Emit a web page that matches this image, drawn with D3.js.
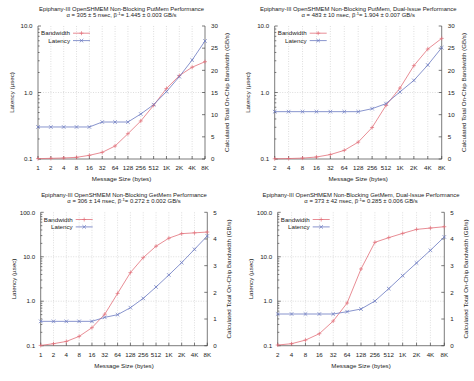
<!DOCTYPE html>
<html><head><meta charset="utf-8">
<script src="https://cdn.jsdelivr.net/npm/d3@7"></script>
<style>body{margin:0;background:#fff}svg{display:block;font-family:"Liberation Sans",Arial,sans-serif}</style>
</head><body>
<svg id="c" width="474" height="381"></svg>
<script>
const sizes1 = ["1","2","4","8","16","32","64","128","256","512","1K","2K","4K","8K"];
const sizes2 = ["2","4","8","16","32","64","128","256","512","1K","2K","4K","8K"];

const putLat = [0.303,0.303,0.303,0.303,0.303,0.36,0.36,0.36,0.475,0.656,1.03,1.73,3.08,5.95];
const putBw  = [0.08,0.15,0.23,0.38,0.83,1.5,2.93,5.7,8.57,12.1,15.9,18.8,20.7,21.95];

const putDiLat = [0.515,0.515,0.515,0.515,0.515,0.515,0.515,0.571,0.68,1.02,1.52,2.59,4.72];
const putDiBw  = [0.05,0.1,0.2,0.45,1.0,1.95,3.8,7.1,12.1,16.0,21.05,24.8,27.2];

const getLat = [0.353,0.353,0.353,0.353,0.353,0.434,0.498,0.716,1.16,2.09,3.89,7.38,14.7,29.4];
const getBw  = [0.01,0.075,0.16,0.35,0.675,1.18,1.96,2.74,3.3,3.73,4.03,4.2,4.23,4.26];

const getDiLat = [0.516,0.516,0.516,0.516,0.516,0.582,0.668,1.01,1.92,3.76,7.25,13.97,27.9];
const getDiBw  = [0.025,0.075,0.21,0.45,0.925,1.6,2.875,3.875,4.05,4.21,4.36,4.41,4.46];

const titles = [
  "Epiphany-III OpenSHMEM Non-Blocking PutMem Performance",
  "Epiphany-III OpenSHMEM Non-Blocking PutMem, Dual-Issue Performance",
  "Epiphany-III OpenSHMEM Non-Blocking GetMem Performance",
  "Epiphany-III OpenSHMEM Non-Blocking GetMem, Dual-Issue Performance"
];
const subtitles = [
  ["α = 305 ± 5 nsec, β","-1","= 1.445 ± 0.003 GB/s"],
  ["α = 483 ± 10 nsec, β","-1","= 1.904 ± 0.007 GB/s"],
  ["α = 306 ± 14 nsec, β","-1","= 0.272 ± 0.002 GB/s"],
  ["α = 373 ± 42 nsec, β","-1","= 0.285 ± 0.006 GB/s"]
];
const latTicks1 = [0.1,1,10];
const latTicks2 = [0.1,1,10,100];
const bwTicks1 = [0,5,10,15,20,25,30];
const bwTicks2 = [0,1,2,3,4,5];

const panels = [
  {cats:sizes1, lat:putLat, bw:putBw, latMax:10, latTicks:latTicks1, bwMax:30, bwTicks:bwTicks1, l:38, r:205, t:26, b:159, title:titles[0], sub:subtitles[0]},
  {cats:sizes2, lat:putDiLat, bw:putDiBw, latMax:10, latTicks:latTicks1, bwMax:30, bwTicks:bwTicks1, l:274.7, r:441.7, t:26, b:159, title:titles[1], sub:subtitles[1]},
  {cats:sizes1, lat:getLat, bw:getBw, latMax:100, latTicks:latTicks2, bwMax:5, bwTicks:bwTicks2, l:40.7, r:207.3, t:212.3, b:345.7, title:titles[2], sub:subtitles[2]},
  {cats:sizes2, lat:getDiLat, bw:getDiBw, latMax:100, latTicks:latTicks2, bwMax:5, bwTicks:bwTicks2, l:277.7, r:444.3, t:212.3, b:345.7, title:titles[3], sub:subtitles[3]}
];

const svg = d3.select("#c");
const RED = "#e2707a", BLUE = "#6a78c0", TXT = "#222", GRID = "#c8c8c8";
const FS = 6.2;

panels.forEach(p => {
  const g = svg.append("g");
  const x = d3.scalePoint().domain(p.cats).range([p.l, p.r]);
  const yL = d3.scaleLog().domain([0.1, p.latMax]).range([p.b, p.t]);
  const yR = d3.scaleLinear().domain([0, p.bwMax]).range([p.b, p.t]);
  const cx = (p.l + p.r) / 2, cy = (p.t + p.b) / 2;

  // grid
  g.selectAll(".vg").data(p.cats.slice(1, -1)).join("line")
    .attr("x1", d => x(d)).attr("x2", d => x(d)).attr("y1", p.t).attr("y2", p.b)
    .attr("stroke", GRID).attr("stroke-width", 0.6).attr("stroke-dasharray", "1,1.5");
  g.selectAll(".hg").data(p.latTicks.slice(1, -1)).join("line")
    .attr("x1", p.l).attr("x2", p.r).attr("y1", d => yL(d)).attr("y2", d => yL(d))
    .attr("stroke", GRID).attr("stroke-width", 0.6).attr("stroke-dasharray", "1,1.5");

  // frame (left, right, bottom)
  const axG = g.append("g").attr("stroke", "#444").attr("stroke-width", 0.7).attr("fill", "none");
  axG.append("path").attr("d", `M${p.l},${p.t}V${p.b}H${p.r}V${p.t}`);
  // x ticks
  axG.selectAll(".xt").data(p.cats).join("line")
    .attr("x1", d => x(d)).attr("x2", d => x(d)).attr("y1", p.b).attr("y2", p.b - 3);
  // left major & minor ticks
  const minor = [];
  for (let dec = 0.1; dec < p.latMax * 0.99; dec *= 10) for (let k = 2; k <= 9; k++) minor.push(dec * k);
  axG.selectAll(".lm").data(p.latTicks).join("line")
    .attr("x1", p.l).attr("x2", p.l + 3).attr("y1", d => yL(d)).attr("y2", d => yL(d));
  axG.selectAll(".ln").data(minor).join("line")
    .attr("x1", p.l).attr("x2", p.l + 1.6).attr("y1", d => yL(d)).attr("y2", d => yL(d));
  axG.selectAll(".rm").data(p.bwTicks).join("line")
    .attr("x1", p.r).attr("x2", p.r - 3).attr("y1", d => yR(d)).attr("y2", d => yR(d));

  // tick labels
  const tl = g.append("g").attr("font-size", FS).attr("fill", TXT);
  tl.selectAll(".xl").data(p.cats).join("text")
    .attr("x", d => x(d)).attr("y", p.b + 11).attr("text-anchor", "middle").text(d => d);
  tl.selectAll(".yl").data(p.latTicks).join("text")
    .attr("x", p.l - 5.5).attr("y", d => yL(d) + 2.2).attr("text-anchor", "end").text(d => d3.format(".1f")(d));
  tl.selectAll(".yr").data(p.bwTicks).join("text")
    .attr("x", p.r + 6).attr("y", d => yR(d) + 2.2).attr("text-anchor", "start").text(d => d);

  // axis titles
  tl.append("text").attr("x", cx).attr("y", p.b + 22).attr("text-anchor", "middle").text("Message Size (bytes)");
  tl.append("text").attr("transform", `translate(${p.l - 24.5},${cy}) rotate(-90)`).attr("text-anchor", "middle").text("Latency (µsec)");
  tl.append("text").attr("transform", `translate(${p.r + 24},${cy}) rotate(-90)`).attr("text-anchor", "middle").text("Calculated Total On-Chip Bandwidth (GB/s)");

  // titles
  tl.append("text").attr("x", cx).attr("y", p.t - 15).attr("text-anchor", "middle").attr("font-size", 5.9).text(p.title);
  const st = tl.append("text").attr("x", cx).attr("y", p.t - 9).attr("text-anchor", "middle").attr("font-size", 5.9);
  st.append("tspan").text(p.sub[0]);
  st.append("tspan").attr("dy", -2).attr("font-size", 4.2).text(p.sub[1]);
  st.append("tspan").attr("dy", 2).text(p.sub[2]);

  // lines
  const bwLine = d3.line().x((d, i) => x(p.cats[i])).y(d => yR(d));
  const latLine = d3.line().x((d, i) => x(p.cats[i])).y(d => yL(d));
  g.append("path").datum(p.bw).attr("d", bwLine).attr("fill", "none").attr("stroke", RED).attr("stroke-width", 0.8);
  g.append("path").datum(p.lat).attr("d", latLine).attr("fill", "none").attr("stroke", BLUE).attr("stroke-width", 0.8);

  const plus = (sel, px, py) => sel.append("path").attr("d", `M${px-2},${py}H${px+2}M${px},${py-2}V${py+2}`).attr("stroke", RED).attr("stroke-width", 0.7);
  const cross = (sel, px, py) => sel.append("path").attr("d", `M${px-1.8},${py-1.8}L${px+1.8},${py+1.8}M${px-1.8},${py+1.8}L${px+1.8},${py-1.8}`).attr("stroke", BLUE).attr("stroke-width", 0.7);
  p.bw.forEach((d, i) => plus(g, x(p.cats[i]), yR(d)));
  p.lat.forEach((d, i) => cross(g, x(p.cats[i]), yL(d)));

  // legend
  const lx = p.l + 32, ly1 = p.t + 7.2, ly2 = p.t + 14.6;
  tl.append("text").attr("x", lx).attr("y", ly1 + 2.2).attr("text-anchor", "end").text("Bandwidth");
  tl.append("text").attr("x", lx).attr("y", ly2 + 2.2).attr("text-anchor", "end").text("Latency");
  g.append("line").attr("x1", lx + 3).attr("x2", lx + 20).attr("y1", ly1).attr("y2", ly1).attr("stroke", RED).attr("stroke-width", 0.8);
  g.append("line").attr("x1", lx + 3).attr("x2", lx + 20).attr("y1", ly2).attr("y2", ly2).attr("stroke", BLUE).attr("stroke-width", 0.8);
  plus(g, lx + 11.5, ly1);
  cross(g, lx + 11.5, ly2);
});
</script>
</body></html>
